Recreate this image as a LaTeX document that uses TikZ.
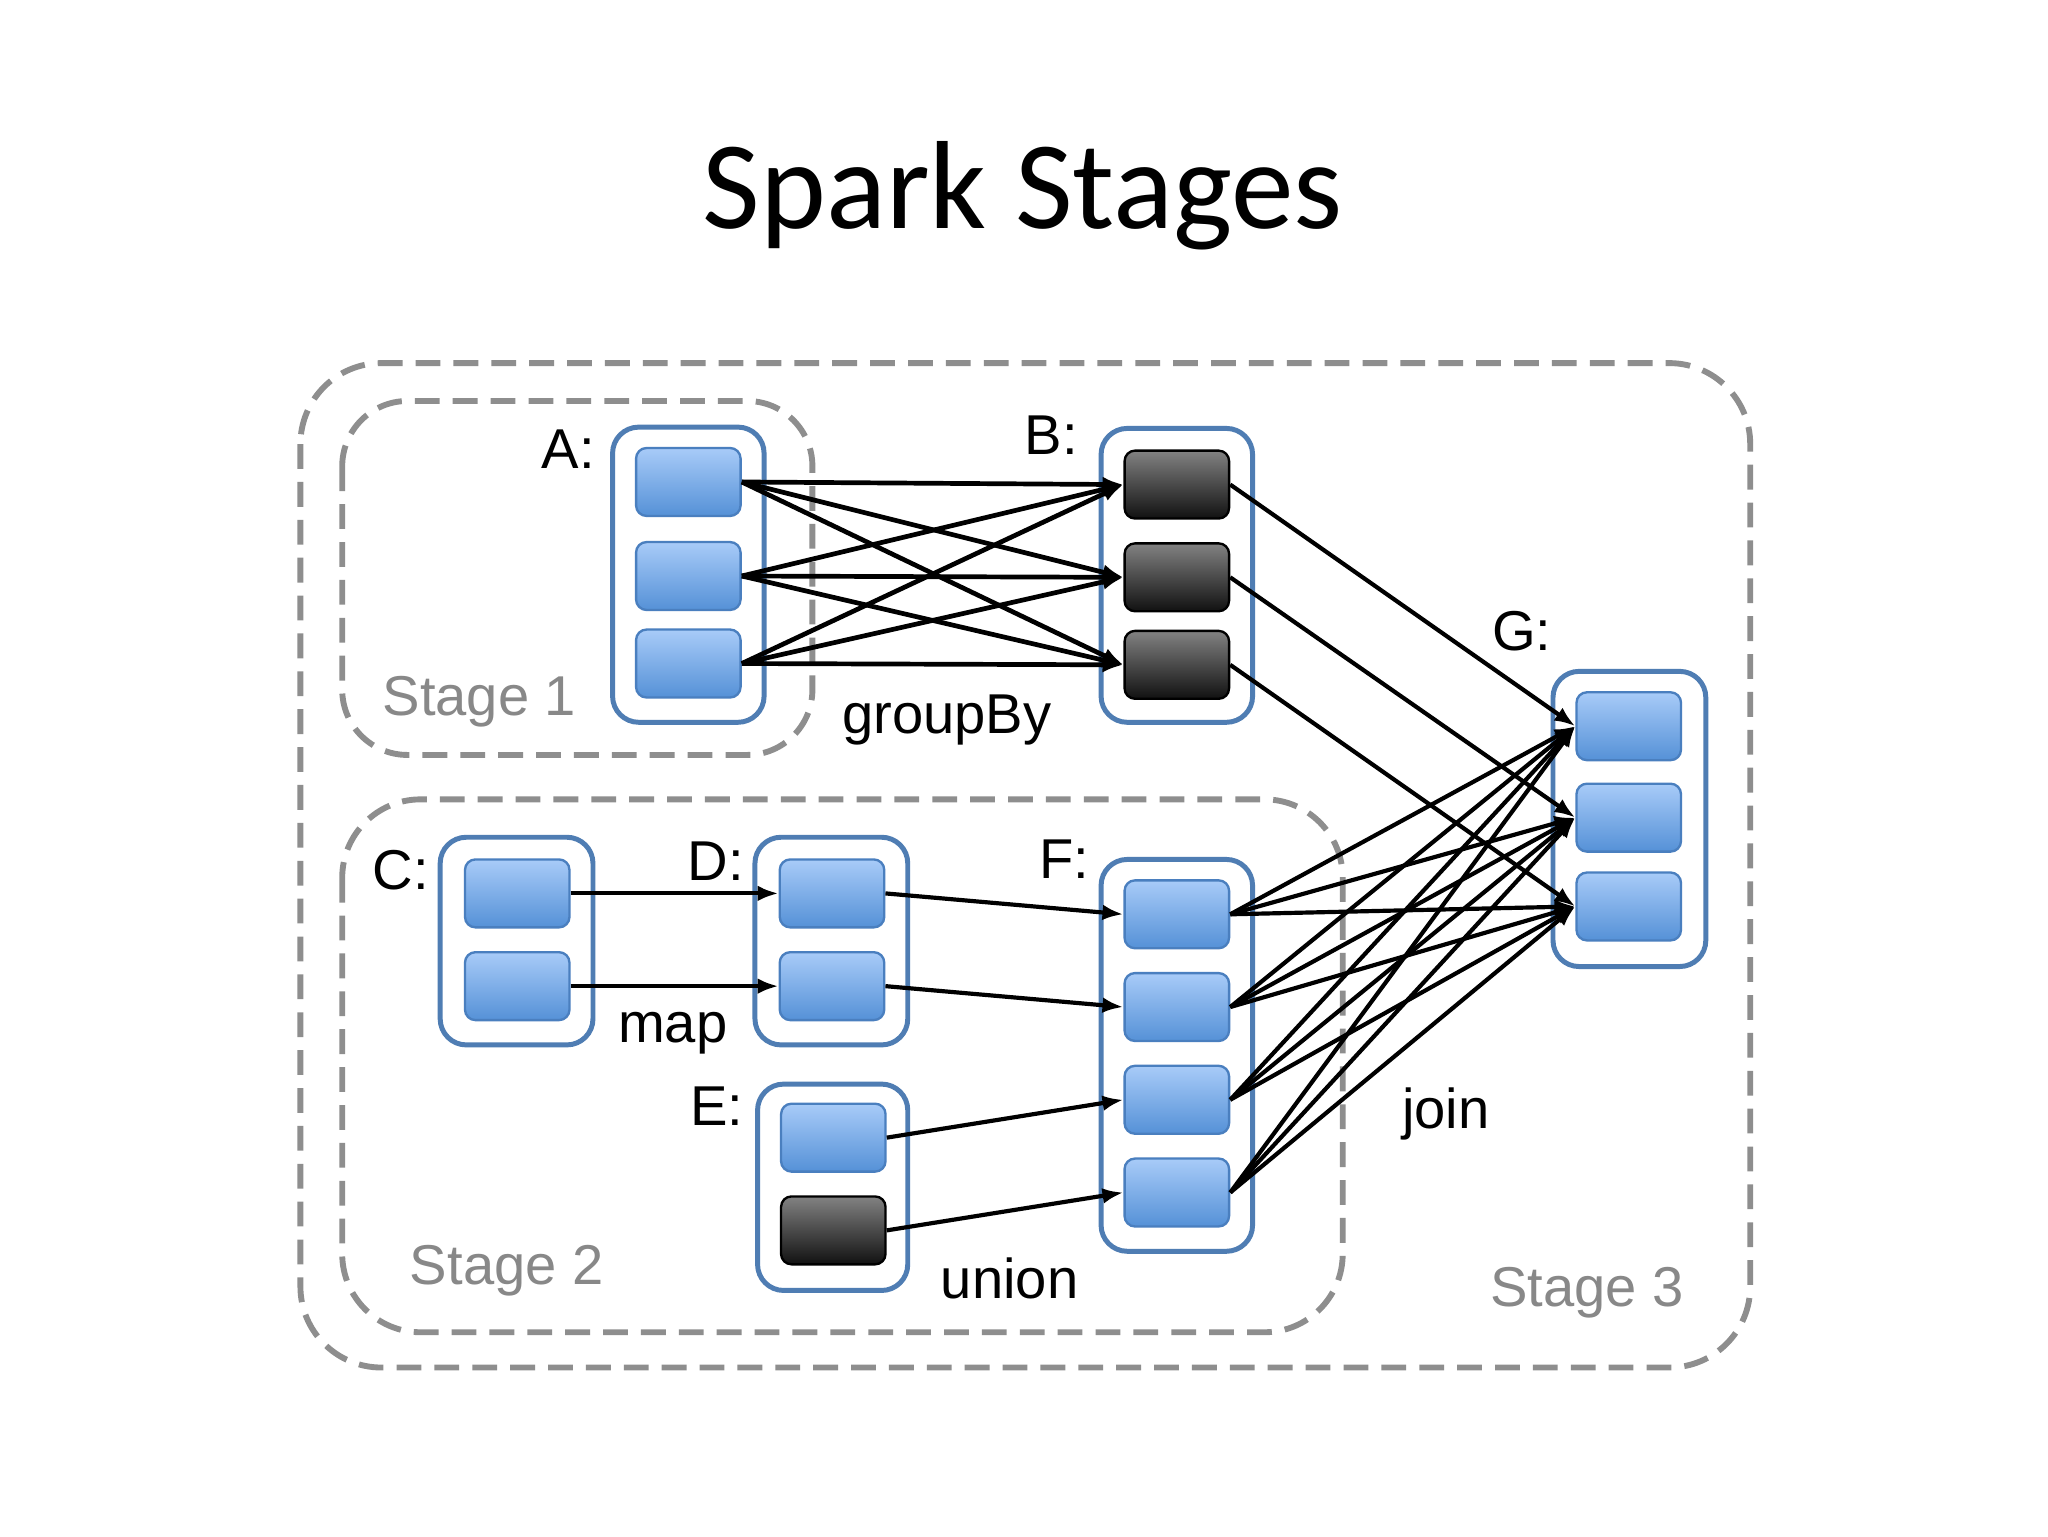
\documentclass[tikz,border=0pt]{standalone}
\usepackage{fontspec}
\setmainfont{Liberation Sans}
\newfontfamily\titlefont{Carlito}
\usetikzlibrary{arrows.meta}
\definecolor{contblue}{HTML}{4F7DB3}
\definecolor{celltop}{HTML}{A8CBF8}
\definecolor{cellbot}{HTML}{5591D7}
\definecolor{cellline}{HTML}{4A7FBF}
\definecolor{darktop}{HTML}{828282}
\definecolor{darkbot}{HTML}{111111}
\definecolor{stagegray}{HTML}{8E8E8E}
\definecolor{stagetext}{HTML}{888888}
\begin{document}
\begin{tikzpicture}[x=1pt,y=-1pt,
  stagebox/.style={draw=stagegray, line width=4.5pt, dash pattern=on 19pt off 10pt},
  cont/.style={draw=contblue, line width=3.8pt, fill=white, rounded corners=20pt, inner sep=0pt},
  bcell/.style={draw=cellline, line width=1.8pt, top color=celltop, bottom color=cellbot, rounded corners=8pt, minimum width=80pt, minimum height=52pt, inner sep=0pt},
  dcell/.style={draw=black, line width=1.8pt, top color=darktop, bottom color=darkbot, rounded corners=8pt, minimum width=80pt, minimum height=52pt, inner sep=0pt},
  lbl/.style={font=\fontsize{43}{50}\selectfont, text=black, inner sep=0pt},
  stg/.style={font=\fontsize{43}{50}\selectfont, text=stagetext, inner sep=0pt},
  arr/.style={-{Latex[length=16pt,width=12pt]}, line width=3.2pt, black},
  arrt/.style={-{Latex[length=16pt,width=12pt]}, line width=3.6pt, black}
]
\useasboundingbox[fill=white] (0,0) rectangle (1568,1176);

% title
\node[font=\titlefont\fontsize{96}{110}\selectfont, inner sep=0pt] (title) at (783,150) {Spark Stages};

% stage boxes
\draw[stagebox, rounded corners=62pt] (230,278) rectangle (1340,1047);
\draw[stagebox, rounded corners=50pt] (262,307) rectangle (622,578);
\draw[stagebox, rounded corners=60pt] (262,612) rectangle (1028,1020);

% containers
\node[cont, minimum width=116pt, minimum height=226pt] (Ac) at (527,440) {};
\node[cont, minimum width=116pt, minimum height=225pt] (Bc) at (901,440.5) {};
\node[cont, minimum width=117pt, minimum height=226pt] (Gc) at (1247.5,627) {};
\node[cont, minimum width=117pt, minimum height=159pt] (Cc) at (395.5,720.5) {};
\node[cont, minimum width=117pt, minimum height=159pt] (Dc) at (636.5,720.5) {};
\node[cont, minimum width=115pt, minimum height=158pt] (Ec) at (637.5,909) {};
\node[cont, minimum width=116pt, minimum height=300pt] (Fc) at (901,808) {};

% cells
\node[bcell] (A1) at (527,369) {};
\node[bcell] (A2) at (527,441) {};
\node[bcell] (A3) at (527,508) {};
\node[dcell] (B1) at (901,371) {};
\node[dcell] (B2) at (901,442) {};
\node[dcell] (B3) at (901,509) {};
\node[bcell] (G1) at (1247,556) {};
\node[bcell] (G2) at (1247,626) {};
\node[bcell] (G3) at (1247,694) {};
\node[bcell] (C1) at (396,684) {};
\node[bcell] (C2) at (396,755) {};
\node[bcell] (D1) at (637,684) {};
\node[bcell] (D2) at (637,755) {};
\node[bcell] (E1) at (638,871) {};
\node[dcell] (E2) at (638,942) {};
\node[bcell] (F1) at (901,700) {};
\node[bcell] (F2) at (901,771) {};
\node[bcell] (F3) at (901,842) {};
\node[bcell] (F4) at (901,913) {};

% labels
\node[lbl] (lA) at (435,344) {A:};
\node[lbl] (lB) at (805,333) {B:};
\node[lbl] (lG) at (1165,483) {G:};
\node[lbl] (lC) at (307,666) {C:};
\node[lbl] (lD) at (548,659) {D:};
\node[lbl] (lF) at (815,658) {F:};
\node[lbl] (lE) at (549,847) {E:};
\node[lbl] (groupby) at (725,551) {groupBy};
\node[lbl] (map) at (515,791) {map};
\node[lbl] (union) at (773,979) {union};
\node[lbl] (join) at (1107,853) {join};
\node[stg] (s1) at (367,537) {Stage 1};
\node[stg] (s2) at (388,973) {Stage 2};
\node[stg] (s3) at (1215,990) {Stage 3};

% A -> B
\foreach \i in {1,2,3}{
  \foreach \j in {1,2,3}{
    \draw[arrt] (A\i.east) -- (B\j.west);
  }
}
% B -> G
\foreach \i in {1,2,3}{
  \draw[arr] (B\i.east) -- (G\i.west);
}
% F -> G
\foreach \i in {1,2,3,4}{
  \foreach \j in {1,2,3}{
    \draw[arr] (F\i.east) -- (G\j.west);
  }
}
% C -> D, D -> F, E -> F
\draw[arr] (C1.east) -- (D1.west);
\draw[arr] (C2.east) -- (D2.west);
\draw[arr] (D1.east) -- (F1.west);
\draw[arr] (D2.east) -- (F2.west);
\draw[arr] (E1.east) -- (F3.west);
\draw[arr] (E2.east) -- (F4.west);
\end{tikzpicture}
\end{document}
